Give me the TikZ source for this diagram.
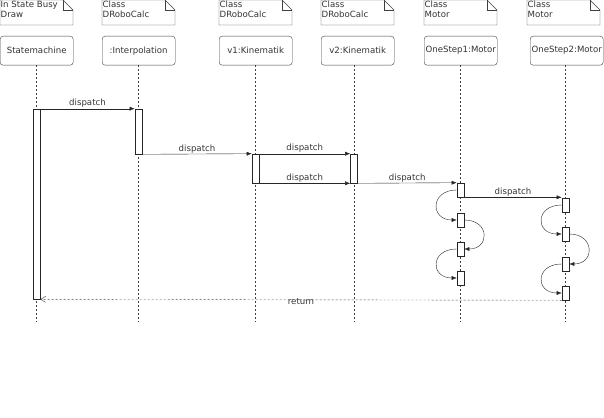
\documentclass[tikz,border=0pt]{standalone}
\usepackage{fontspec}
\setmainfont{DejaVu Sans}
\usetikzlibrary{arrows.meta,shapes.misc}
\begin{document}
\begin{tikzpicture}[x=1pt,y=-1pt,font=\fontsize{8.6}{10}\selectfont,
  txt/.style={text=black!80},
  head/.style={draw=black!75,rounded corners=3pt,minimum width=73pt,minimum height=29pt,inner sep=0pt,anchor=north west,txt},
  act/.style={draw=black!85,fill=white,line width=0.6pt},
  msg/.style={draw=black!85,-{Latex[length=5pt,width=4pt]}},
  life/.style={draw=black!75,dashed,dash pattern=on 2pt off 2pt},
  self/.style={draw=black!85,-{Latex[length=5pt,width=4pt]}},
  lbl/.style={txt,inner sep=1pt}]
\useasboundingbox (0,0) rectangle (604,417);
% notes
\foreach \x/\t/\n in {0/{In State Busy\\Draw}/n1,102/{Class\\DRoboCalc}/n2,219/{Class\\DRoboCalc}/n3,321/{Class\\DRoboCalc}/n4,424/{Class\\Motor}/n5,527/{Class\\Motor}/n6}{
  \draw[black!75] (\x,0) -- ++(63,0) -- ++(10,10) -- ++(0,15) -- ++(-73,0) -- cycle;
  \draw[black!75] (\x+63,0) -- ++(0,10) -- ++(10,0);
  \node[txt,anchor=north west,align=left,inner sep=0.5pt] (\n) at (\x,0) {\t};
}
% heads
\node[head] (sm) at (0,36) {Statemachine};
\node[head] (ip) at (102,36) {:Interpolation};
\node[head] (k1) at (219,36) {v1:Kinematik};
\node[head] (k2) at (321,36) {v2:Kinematik};
\node[head] (m1) at (424,36) {OneStep1:Motor};
\node[head] (m2) at (530,36) {OneStep2:Motor};
% lifelines
\foreach \n/\x in {sm/36.5,ip/138.5,k1/255.5,k2/354,m1/460.5,m2/565.5}{
  \coordinate (\n e) at (\x,322);
  \draw[life] (\x,65) -- (\n e);
}
% activations
\node[act,minimum width=7pt,minimum height=190pt,inner sep=0pt] (a0) at (36.5,204) {};
\node[act,minimum width=7pt,minimum height=45pt,inner sep=0pt] (a1) at (138.5,131.5) {};
\node[act,minimum width=7pt,minimum height=29pt,inner sep=0pt] (a2) at (255.5,168.5) {};
\node[act,minimum width=7pt,minimum height=29pt,inner sep=0pt] (a3) at (354,168.5) {};
\foreach \i/\y in {1/190,2/220,3/249,4/278}{
  \node[act,minimum width=7pt,minimum height=14pt,inner sep=0pt] (p\i) at (460.5,\y) {};}
\foreach \i/\y in {1/205,2/234,3/264,4/293}{
  \node[act,minimum width=7pt,minimum height=14pt,inner sep=0pt] (q\i) at (565.5,\y) {};}
% messages
\draw[msg] (a0.north east) -- node[lbl,above]{dispatch} (a1.north west);
\draw[msg] (a1.south east) -- node[lbl,above]{dispatch} (a2.north west);
\draw[msg] (a2.north east) -- node[lbl,above]{dispatch} (a3.north west);
\draw[msg] (a2.south east) -- node[lbl,above]{dispatch} (a3.south west);
\draw[msg] (a3.south east) -- node[lbl,above]{dispatch} (p1.north west);
\draw[msg] (p1.south east) -- node[lbl,above]{dispatch} (q1.north west |- p1.south east);
\draw[life,-{Straight Barb[length=5pt,width=6pt]},dash pattern=on 2pt off 2pt] (q4.south west) -- node[lbl,below=-3pt]{return} (a0.south east);
% self calls
\draw[self] (p1.west) .. controls (430,190) and (430,220) .. (p2.west);
\draw[self] (p2.east) .. controls (490,220) and (490,249) .. (p3.east);
\draw[self] (p3.west) .. controls (430,249) and (430,278) .. (p4.west);
\draw[self] (q1.west) .. controls (535,205) and (535,234) .. (q2.west);
\draw[self] (q2.east) .. controls (595,234) and (595,264) .. (q3.east);
\draw[self] (q3.west) .. controls (535,264) and (535,293) .. (q4.west);
\end{tikzpicture}
\end{document}
